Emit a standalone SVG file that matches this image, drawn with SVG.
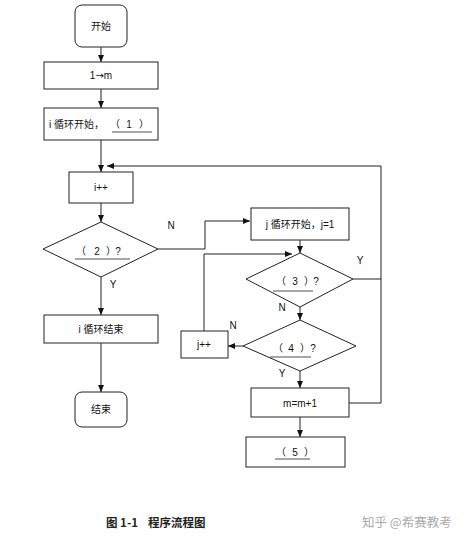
<svg xmlns="http://www.w3.org/2000/svg" width="474" height="543" viewBox="0 0 474 543">
<style>
.b{fill:#fff;stroke:#222;stroke-width:1}
.t{font-family:"Liberation Sans","Noto Sans CJK SC",sans-serif;font-size:10px;fill:#111;text-anchor:middle}
.l{fill:none;stroke:#222;stroke-width:1}
.u{stroke:#222;stroke-width:0.8}
.a{fill:none;stroke:#222;stroke-width:1;marker-end:url(#ah)}
</style>
<defs>
<marker id="ah" markerWidth="8" markerHeight="8" refX="7" refY="4" orient="auto" markerUnits="userSpaceOnUse">
<path d="M0,1 L7,4 L0,7 Z" fill="#111"/>
</marker>
</defs>
<rect width="474" height="543" fill="#fff"/>
<g id="connectors">
<path class="a" d="M101,47 V62"/>
<path class="a" d="M101,89 V108"/>
<path class="a" d="M101,140 V172"/>
<path class="a" d="M381,403 V166 H107"/>
<path class="l" d="M349,403 H381"/>
<path class="l" d="M353,279 H381"/>
<path class="a" d="M101,203 V222"/>
<path class="a" d="M158,249 H205 V221 H250"/>
<path class="a" d="M101,277 V315"/>
<path class="a" d="M101,343 V392"/>
<path class="a" d="M300,240 V253"/>
<path class="a" d="M300,307 V320"/>
<path class="a" d="M243,346 H228"/>
<path class="a" d="M204,331 V254 H292"/>
<path class="a" d="M300,371 V388"/>
<path class="a" d="M300,417 V437"/>
</g>
<g id="start"><rect class="b" x="75" y="5" width="52" height="42" rx="7"/><text class="t" x="101" y="30">开始</text></g>
<g id="init"><rect class="b" x="44" y="62" width="114" height="27"/><text class="t" x="101" y="79">1<tspan style="font-family:'DejaVu Sans',sans-serif">→</tspan>m</text></g>
<g id="iloop"><rect class="b" x="44" y="108" width="114" height="32"/><text class="t" y="128"><tspan x="49" style="text-anchor:start">i 循环开始，</tspan><tspan x="115">（</tspan><tspan x="129">1</tspan><tspan x="144">）</tspan></text><line class="u" x1="112" y1="132" x2="152" y2="132"/></g>
<g id="iinc"><rect class="b" x="69" y="172" width="64" height="31"/><text class="t" x="101" y="191">i++</text></g>
<g id="d2"><polygon class="b" points="101,222 158,249 101,277 43,249"/><text class="t" y="255"><tspan x="81">（</tspan><tspan x="97">2</tspan><tspan x="111">）</tspan><tspan x="118">?</tspan></text><line class="u" x1="75" y1="259" x2="130" y2="259"/></g>
<g id="iend"><rect class="b" x="44" y="315" width="114" height="28"/><text class="t" x="101" y="333">i 循环结束</text></g>
<g id="end"><rect class="b" x="75" y="392" width="52" height="35" rx="7"/><text class="t" x="101" y="413">结束</text></g>
<g id="jloop"><rect class="b" x="251" y="208" width="98" height="32"/><text class="t" x="300" y="228">j 循环开始，j=1</text></g>
<g id="d3"><polygon class="b" points="300,253 353,279 300,307 246,279"/><text class="t" y="285"><tspan x="281">（</tspan><tspan x="295">3</tspan><tspan x="309">）</tspan><tspan x="316">?</tspan></text><line class="u" x1="273" y1="291" x2="313" y2="291"/></g>
<g id="d4"><polygon class="b" points="300,320 356,346 300,371 243,346"/><text class="t" y="352"><tspan x="278">（</tspan><tspan x="291">4</tspan><tspan x="305">）</tspan><tspan x="313">?</tspan></text><line class="u" x1="270" y1="357" x2="311" y2="357"/></g>
<g id="jinc"><rect class="b" x="181" y="331" width="47" height="27"/><text class="t" x="204" y="348">j++</text></g>
<g id="minc"><rect class="b" x="251" y="388" width="98" height="29"/><text class="t" x="300" y="407">m=m+1</text></g>
<g id="out"><rect class="b" x="246" y="437" width="99" height="30"/><text class="t" y="456"><tspan x="281">（</tspan><tspan x="295">5</tspan><tspan x="309">）</tspan></text><line class="u" x1="275" y1="459" x2="310" y2="459"/></g>
<g id="labels">
<text class="t" x="171" y="229">N</text>
<text class="t" x="113" y="288">Y</text>
<text class="t" x="360" y="264">Y</text>
<text class="t" x="282" y="311">N</text>
<text class="t" x="233" y="329">N</text>
<text class="t" x="282" y="377">Y</text>
</g>
<g id="caption">
<text y="527" style="font-family:'Noto Sans CJK SC',sans-serif;font-size:11.5px;font-weight:bold;fill:#222"><tspan x="106">图 1-1</tspan><tspan x="148">程序流程图</tspan></text>
<text x="362" y="527" style="font-family:'Noto Sans CJK SC',sans-serif;font-size:12.5px;fill:#aaa">知乎 @希赛教考</text>
</g>
</svg>
